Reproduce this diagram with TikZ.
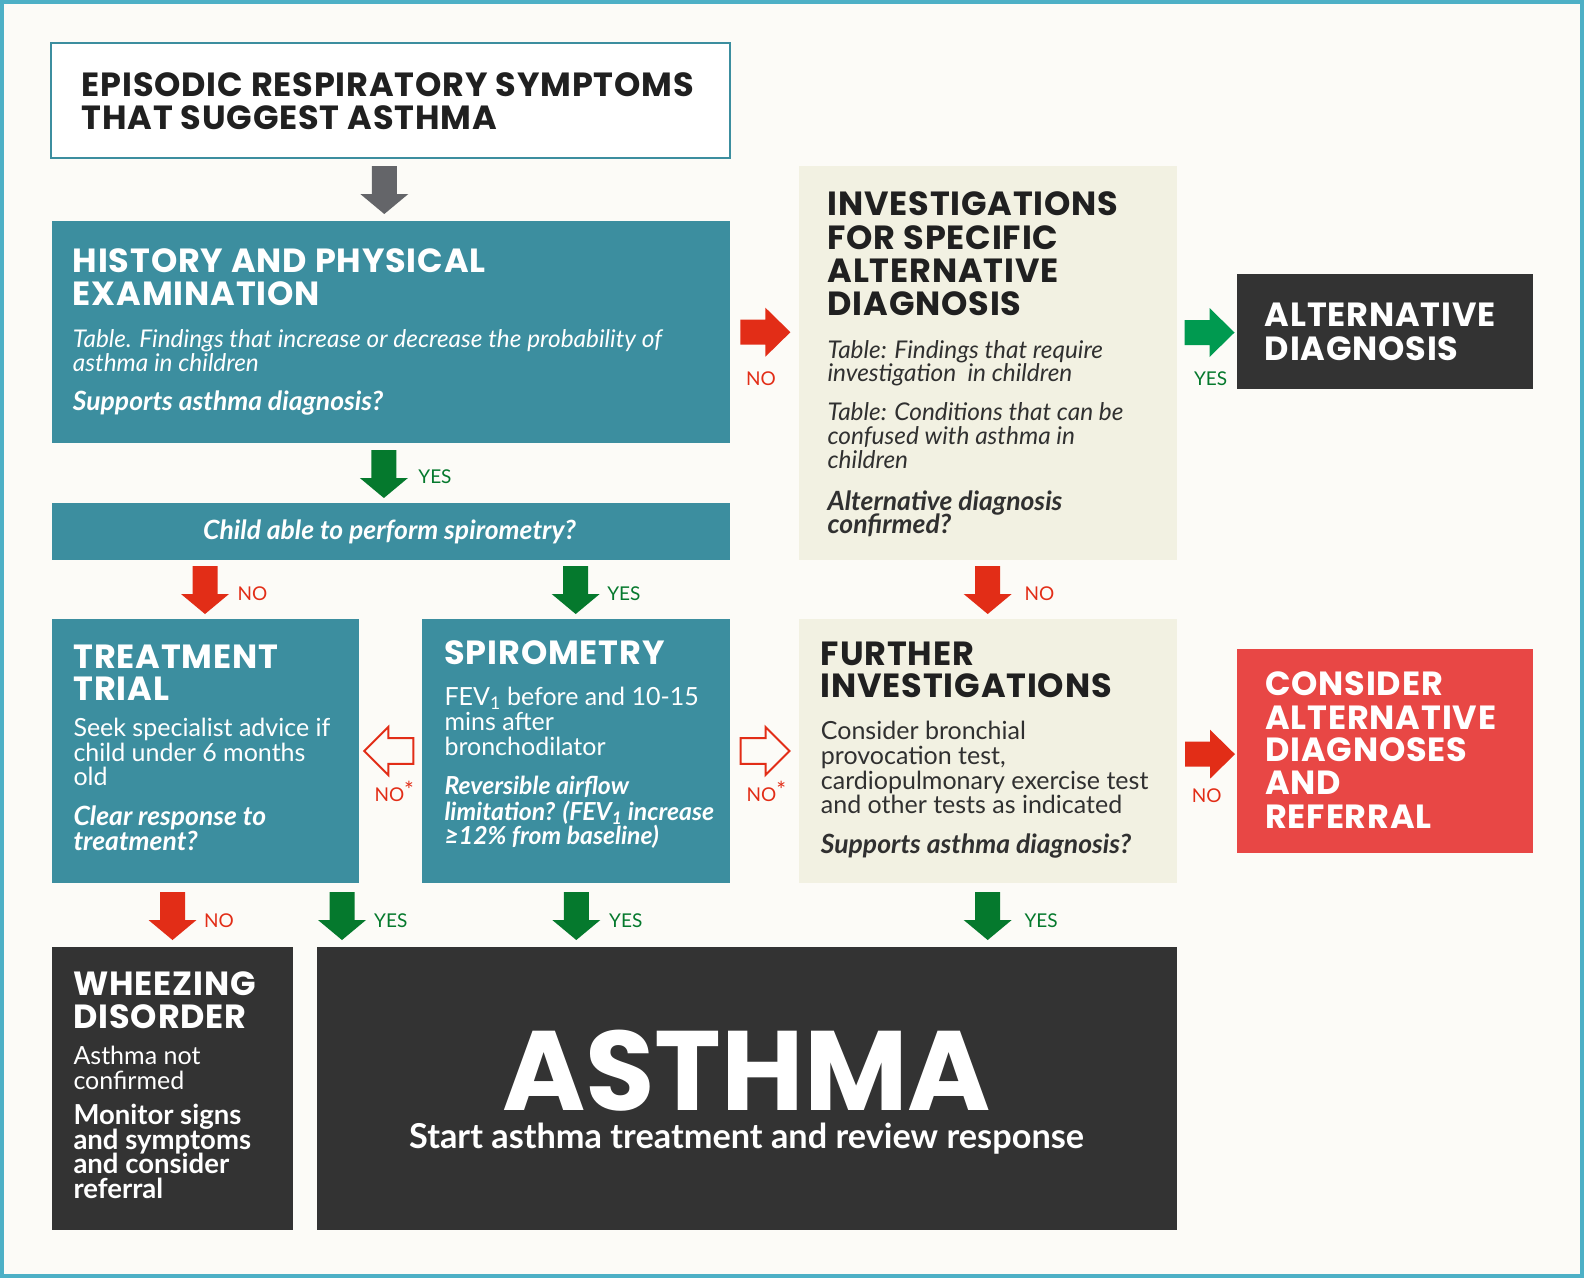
\documentclass[tikz,border=0pt]{standalone}
\usepackage{fontspec}
\setmainfont{Lato}
\newfontfamily\hfont{Poppins}[LetterSpace=2.5]
\newfontfamily\afont{Poppins}
\definecolor{cFrame}{RGB}{77,176,198}
\definecolor{cBg}{RGB}{252,251,247}
\definecolor{cTeal}{RGB}{60,142,159}
\definecolor{cDark}{RGB}{51,51,51}
\definecolor{cBeige}{RGB}{242,241,226}
\definecolor{cRedBox}{RGB}{232,71,69}
\definecolor{cRed}{RGB}{226,45,23}
\definecolor{cGreen}{RGB}{5,121,45}
\definecolor{cGreenB}{RGB}{0,154,80}
\definecolor{cGray}{RGB}{100,101,105}
\definecolor{cInk}{RGB}{32,32,32}
\definecolor{cBody}{RGB}{48,48,48}
\newcommand\tline[4]{\node[#1] (#2) at (#3) {#4};}
\newcommand\nostar{\raisebox{3pt}{\fontsize{23}{23}\selectfont *}}
\begin{document}
\begin{tikzpicture}[x=1pt,y=-1pt,
  box/.style={anchor=north west, inner sep=0, outer sep=0, draw=none},
  hd/.style={anchor=base west, inner sep=0, font=\hfont\bfseries\fontsize{33.5}{33.5}\selectfont},
  bd/.style={anchor=base west, inner sep=0, font=\fontsize{25}{25}\selectfont},
  bdi/.style={bd, font=\fontsize{24.4}{25}\selectfont\itshape},
  bdbi/.style={bd, font=\fontsize{26.5}{25}\selectfont\bfseries\itshape},
  bdbis/.style={bd, font=\fontsize{24.8}{25}\selectfont\bfseries\itshape},
  bdb/.style={bd, font=\fontsize{27.5}{25}\selectfont\bfseries},
  lab/.style={anchor=base west, inner sep=0, font=\fontsize{19}{19}\selectfont},
  pics/darrow/.style={code={\fill[#1] (-12.5,0) -- (12.5,0) -- (12.5,28) -- (24,28) -- (0,48) -- (-24,28) -- (-12.5,28) -- cycle;}},
  pics/rarrow/.style={code={\fill[#1] (0,-12.5) -- (25,-12.5) -- (25,-24.5) -- (50,0) -- (25,24.5) -- (25,12.5) -- (0,12.5) -- cycle;}},
  pics/rharrow/.style={code={\filldraw[fill=cBg, draw=cRed, line width=2pt, line join=miter] (0,-12.8) -- (25,-12.8) -- (25,-24) -- (49,0) -- (25,24) -- (25,12.8) -- (0,12.8) -- cycle;}},
  pics/lharrow/.style={code={\filldraw[fill=cBg, draw=cRed, line width=2pt, line join=miter] (49,-12.8) -- (24,-12.8) -- (24,-24) -- (0,0) -- (24,24) -- (24,12.8) -- (49,12.8) -- cycle;}},
]
\useasboundingbox (0,0) rectangle (1584,1278);
\fill[cFrame] (0,0) rectangle (1584,1278);
\fill[cBg] (4,4) rectangle (1580,1274);

% boxes
\node[box, fill=white, draw=cTeal, line width=2pt, minimum width=679pt, minimum height=115pt] (top) at (51.2,42.6) {};
\node[box, fill=cTeal, minimum width=678.5pt, minimum height=221.5pt] (hist) at (51.5,221) {};
\node[box, fill=cTeal, minimum width=678.5pt, minimum height=56.7pt] (spq) at (51.5,503.3) {};
\node[box, fill=cTeal, minimum width=307.5pt, minimum height=264pt] (trt) at (51.5,619) {};
\node[box, fill=cTeal, minimum width=307.7pt, minimum height=264pt] (spi) at (422.3,619) {};
\node[box, fill=cBeige, minimum width=378pt, minimum height=393.5pt] (inv) at (798.5,166) {};
\node[box, fill=cDark, minimum width=295.7pt, minimum height=115pt] (alt) at (1237,274.3) {};
\node[box, fill=cBeige, minimum width=378pt, minimum height=264pt] (fur) at (798.5,619) {};
\node[box, fill=cRedBox, minimum width=295.4pt, minimum height=203.4pt] (con) at (1237.3,649.3) {};
\node[box, fill=cDark, minimum width=241.8pt, minimum height=283.3pt] (whz) at (51.5,946.7) {};
\node[box, fill=cDark, minimum width=859.3pt, minimum height=283.3pt] (ast) at (317.2,946.7) {};

% arrows
\pic at (384.3,166) {darrow=cGray};
\pic at (383.9,450) {darrow=cGreen};
\pic at (205,566) {darrow=cRed};
\pic at (575.7,566) {darrow=cGreen};
\pic at (987.7,566) {darrow=cRed};
\pic at (172.5,892) {darrow=cRed};
\pic at (342,892) {darrow=cGreen};
\pic at (576.3,892) {darrow=cGreen};
\pic at (987.7,892) {darrow=cGreen};
\pic at (740.4,332.2) {rarrow=cRed};
\pic at (1184.5,332.5) {rarrow=cGreenB};
\pic at (1185,754.2) {rarrow=cRed};
\pic at (364.3,751) {lharrow};
\pic at (740.5,751) {rharrow};

% arrow labels
\tline{lab, text=cGreen}{l1}{418.2,483.2}{YES}
\tline{lab, text=cRed}{l2}{237.4,600.4}{NO}
\tline{lab, text=cGreen}{l3}{607.1,600.4}{YES}
\tline{lab, text=cRed}{l4}{1024.3,600.4}{NO}
\tline{lab, text=cRed}{l5}{204,927.7}{NO}
\tline{lab, text=cGreen}{l6}{374,927.7}{YES}
\tline{lab, text=cGreen}{l7}{609,927.7}{YES}
\tline{lab, text=cGreen}{l8}{1024.3,927.7}{YES}
\tline{lab, text=cRed}{l9}{746,385}{NO}
\tline{lab, text=cGreen}{l10}{1193.8,385}{YES}
\tline{lab, text=cRed}{l11}{1191.7,802.7}{NO}
\tline{lab, text=cRed}{l12}{374.3,801}{NO\nostar}
\tline{lab, text=cRed}{l13}{746.5,801}{NO\nostar}

% top box
\tline{hd, text=cInk}{t1}{81.4,96.7}{EPISODIC RESPIRATORY SYMPTOMS}
\tline{hd, text=cInk}{t2}{81.4,129.3}{THAT SUGGEST ASTHMA}

% history
\tline{hd, text=white}{h1}{72.7,272.7}{HISTORY AND PHYSICAL}
\tline{hd, text=white}{h2}{72.7,305.7}{EXAMINATION}
\tline{bdi, text=white}{h3}{72.7,347}{Table. Findings that increase or decrease the probability of}
\tline{bdi, text=white}{h4}{72.7,371.7}{asthma in children}
\tline{bdbi, text=white}{h5}{72.7,410}{Supports asthma diagnosis?}

% spirometry question
\node[bdbi, text=white, anchor=base] (q1) at (389.5,539) {Child able to perform spirometry?};

% treatment trial
\tline{hd, text=white}{r1}{73.3,668.3}{TREATMENT}
\tline{hd, text=white}{r2}{73.3,700.7}{TRIAL}
\tline{bd, text=white}{r3}{73.3,736.7}{Seek specialist advice if}
\tline{bd, text=white}{r4}{73.3,761}{child under 6 months}
\tline{bd, text=white}{r5}{73.3,785.7}{old}
\tline{bdbi, text=white}{r6}{73.3,825}{Clear response to}
\tline{bdbi, text=white}{r7}{73.3,850}{treatment?}

% spirometry
\tline{hd, text=white}{s1}{444.3,664.3}{SPIROMETRY}
\tline{bd, text=white}{s2}{444.3,705}{FEV\textsubscript{1} before and 10-15}
\tline{bd, text=white}{s3}{444.3,730}{mins after}
\tline{bd, text=white}{s4}{444.3,755}{bronchodilator}
\tline{bdbis, text=white}{s5}{444.3,794.3}{Reversible airflow}
\tline{bdbis, text=white}{s6}{444.3,820}{limitation? (FEV\textsubscript{1} increase}
\tline{bdbis, text=white}{s7}{444.3,844.3}{≥12\% from baseline)}

% investigations
\tline{hd, text=cInk}{i1}{827.4,215}{INVESTIGATIONS}
\tline{hd, text=cInk}{i2}{827.4,249.3}{FOR SPECIFIC}
\tline{hd, text=cInk}{i3}{827.4,282.3}{ALTERNATIVE}
\tline{hd, text=cInk}{i4}{827.4,315.7}{DIAGNOSIS}
\tline{bdi, text=cBody}{i5}{827.4,358.3}{Table: Findings that require}
\tline{bdi, text=cBody}{i6}{827.4,381.7}{investigation\ \ in children}
\tline{bdi, text=cBody}{i7}{827.4,420}{Table: Conditions that can be}
\tline{bdi, text=cBody}{i8}{827.4,444.3}{confused with asthma in}
\tline{bdi, text=cBody}{i9}{827.4,468.3}{children}
\tline{bdbi, text=cBody}{i10}{827.4,510}{Alternative diagnosis}
\tline{bdbi, text=cBody}{i11}{827.4,533.3}{confirmed?}

% alternative diagnosis
\tline{hd, text=white}{a1}{1264.6,326.7}{ALTERNATIVE}
\tline{hd, text=white}{a2}{1264.6,360}{DIAGNOSIS}

% further investigations
\tline{hd, text=cInk}{f1}{820.7,665}{FURTHER}
\tline{hd, text=cInk}{f2}{820.7,697.7}{INVESTIGATIONS}
\tline{bd, text=cBody}{f3}{820.7,739}{Consider bronchial}
\tline{bd, text=cBody}{f4}{820.7,764.3}{provocation test,}
\tline{bd, text=cBody}{f5}{820.7,789}{cardiopulmonary exercise test}
\tline{bd, text=cBody}{f6}{820.7,813.3}{and other tests as indicated}
\tline{bdbi, text=cBody}{f7}{820.7,853.3}{Supports asthma diagnosis?}

% consider
\tline{hd, text=white}{c1}{1265,695}{CONSIDER}
\tline{hd, text=white}{c2}{1265,729}{ALTERNATIVE}
\tline{hd, text=white}{c3}{1265,761}{DIAGNOSES}
\tline{hd, text=white}{c4}{1265,794.3}{AND}
\tline{hd, text=white}{c5}{1265,828.3}{REFERRAL}

% wheezing
\tline{hd, text=white}{w1}{73.3,995.7}{WHEEZING}
\tline{hd, text=white}{w2}{73.3,1028.3}{DISORDER}
\tline{bd, text=white}{w3}{73.3,1064}{Asthma not}
\tline{bd, text=white}{w4}{73.3,1089}{confirmed}
\tline{bdb, text=white}{w5}{73.3,1124.3}{Monitor signs}
\tline{bdb, text=white}{w6}{73.3,1149}{and symptoms}
\tline{bdb, text=white}{w7}{73.3,1173.3}{and consider}
\tline{bdb, text=white}{w8}{73.3,1198.3}{referral}

% asthma
\node[anchor=base, inner sep=0, text=white, font=\afont\bfseries\fontsize{113}{113}\selectfont] (as1) at (746.6,1110.7) {ASTHMA};
\node[anchor=base, inner sep=0, text=white, font=\fontsize{34.3}{34.3}\selectfont\bfseries] (as2) at (746.6,1148.3) {Start asthma treatment and review response};
\end{tikzpicture}
\end{document}
